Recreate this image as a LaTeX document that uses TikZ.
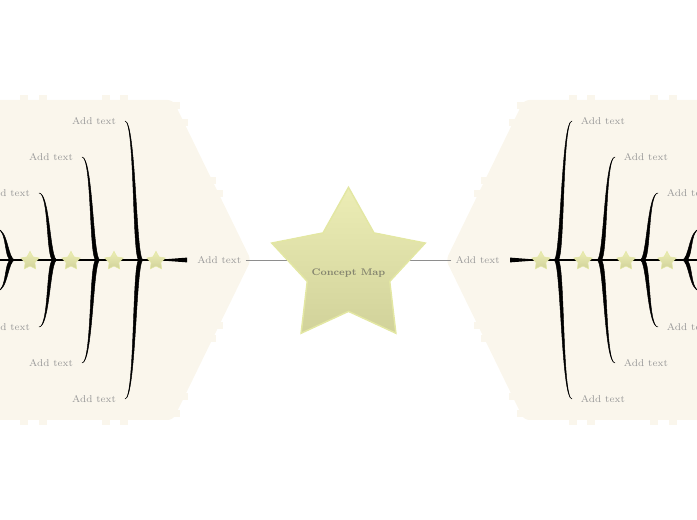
\documentclass[tikz,border=0pt]{standalone}
\usetikzlibrary{shapes.geometric}

\definecolor{panelcream}{HTML}{FAF6EC}
\definecolor{starlight}{HTML}{ECEDB5}
\definecolor{stardark}{HTML}{D1D29A}
\definecolor{staredge}{HTML}{E3E7A3}
\definecolor{textgray}{HTML}{999999}
\definecolor{mapgray}{HTML}{85856F}
\definecolor{linkgray}{HTML}{8E8E8E}

\tikzset{
  addtext/.style={text=textgray, font=\fontsize{7.4}{9}\selectfont, inner sep=3pt},
  branchtext/.style={addtext, inner xsep=6.5pt},
  spark/.style={star, star points=5, star point ratio=1.9, minimum size=14.5pt, inner sep=0pt,
    draw=staredge, line width=0.4pt, top color=starlight, bottom color=stardark},
  bigstar/.style={star, star points=5, star point ratio=1.86, minimum size=121pt, inner sep=0pt,
    draw=staredge, line width=1.1pt, top color=starlight, bottom color=stardark,
    text=mapgray, font=\bfseries\fontsize{7.2}{8}\selectfont},
  spine/.style={line width=1.6pt},
  link/.style={draw=linkgray, line width=0.6pt}
}

\begin{document}
\begin{tikzpicture}[x=0.75pt, y=-0.75pt]
\useasboundingbox (0,0) rectangle (697,520);
\clip (0,0) rectangle (697,520);

\coordinate (hub) at (348.5,260);

% both fishbones, the right one mirrored
\foreach \side/\flip/\tip/\tail in {L/1/east/west, R/-1/west/east} {
\begin{scope}[shift={({(1-\flip)*348.5},0)}, xscale=\flip]
  % panel with its little tabs
  \fill[panelcream, rounded corners=4pt] (-10,100) -- (173,100) -- (251,260) -- (173,420) -- (-10,420) -- cycle;
  \foreach \tx in {24,43,106,124}
    \fill[panelcream] (\tx-4,95) rectangle (\tx+4,425);
  \foreach \ty in {106,123,181,194} {
    \fill[panelcream] ({173+(\ty-100)*0.4875-4},\ty-3.5) rectangle +(8,7);
    \fill[panelcream] ({173+(\ty-100)*0.4875-4},520-\ty-3.5) rectangle +(8,7);
  }

  % head text, link and spine
  \node[addtext, anchor=\tail] (hd\side) at (193,260) {Add text};
  \coordinate (far\side) at (-10,260);
  \draw[link] (hd\side) -- (hub);
  \draw[spine, shorten <=4.5pt] (hd\side) -- (far\side);
  \fill (166,259.2) -- (187,257.6) -- (187,262.4) -- (166,260.8) -- cycle;

  % branches
  \foreach \i/\jx/\ey/\word in {1/143/121/Add text, 2/100/157/Add text, 3/57/193/Add text, 4/15/229/} {
    \coordinate (j\side\i) at (\jx,260);
    \node[branchtext, anchor=\tip] (up\side\i) at (\jx-18,\ey) {\word};
    \node[branchtext, anchor=\tip] (dn\side\i) at (\jx-18,520-\ey) {\word};
    \foreach \e in {up,dn}
      \filldraw[line width=0.35pt] (\e\side\i.\tip) .. controls +(11,0) and +(-7,0) .. (j\side\i)
        -- +(-4,0) .. controls +(-7,0) and +(10,0) .. (\e\side\i.\tip) -- cycle;
  }

  % stars on the spine
  \foreach \i/\sx in {1/156, 2/114, 3/71, 4/30}
    \node[spark] (st\side\i) at (\sx,261) {};
\end{scope}
}

\node[bigstar] (map) at (348.5,268) {\raisebox{-5.5pt}[0pt][0pt]{\makebox[0pt]{Concept Map}}};

\end{tikzpicture}
\end{document}
